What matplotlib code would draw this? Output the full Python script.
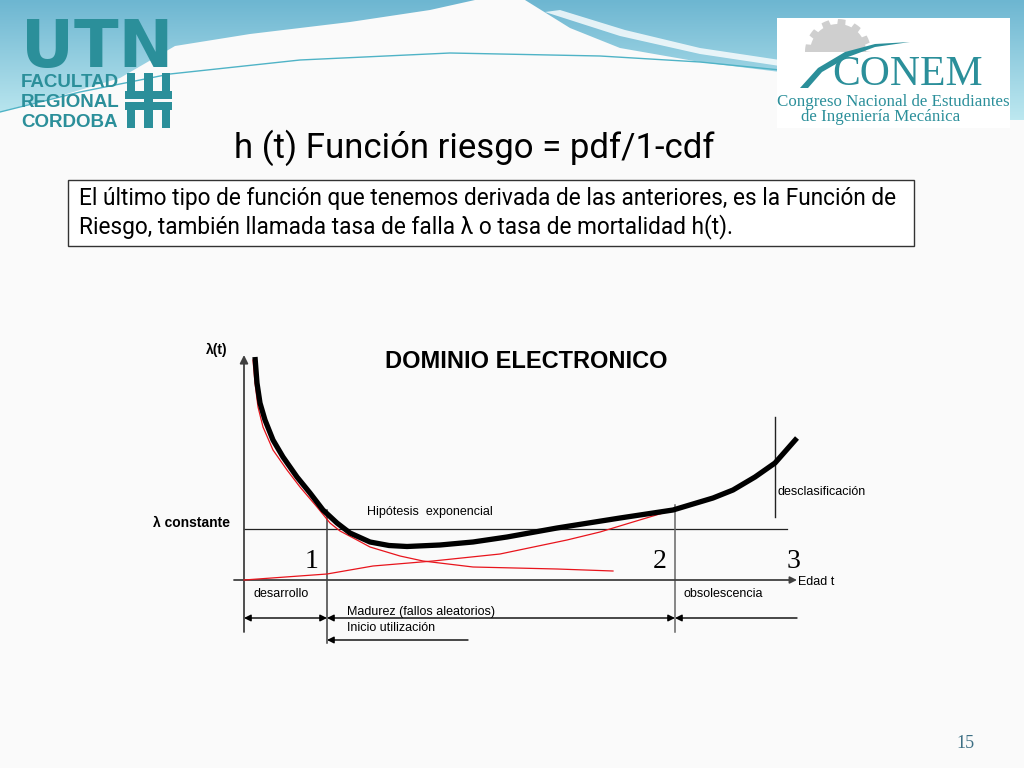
"""Slide: h(t) hazard function diagram (DOMINIO ELECTRONICO)."""

import matplotlib

matplotlib.use("Agg")

import matplotlib.pyplot as plt
import numpy as np
from matplotlib.patches import Polygon, Rectangle
from matplotlib.colors import to_rgb

# ---- diagram data (t = age, lam = failure rate, arbitrary units) ----
black_t = [1.1, 1.3, 1.6, 2.1, 2.9, 3.9, 5.3, 6.6, 7.9, 9.3, 10.6, 12.6, 14.5,
           16.3, 19.6, 22.9, 26.3, 31.3, 37.6, 42.9, 46.9, 48.9, 51.1, 53.1, 55.3]
black_lam = [22.3, 19.7, 17.7, 16.0, 14.0, 12.3, 10.3, 8.7, 7.0, 5.7, 4.7, 3.8, 3.45,
             3.35, 3.5, 3.8, 4.3, 5.2, 6.2, 7.0, 8.2, 9.0, 10.3, 11.7, 14.2]

red_dec_t = [0.9, 1.1, 1.4, 1.9, 2.9, 4.3, 5.6, 7.3, 8.6, 9.6, 11.3, 12.6, 15.6,
             17.9, 22.9, 31.3, 36.9]
red_dec_lam = [22.0, 19.7, 17.3, 15.3, 13.0, 11.0, 9.3, 7.3, 5.7, 4.9, 4.0, 3.3, 2.4,
               1.9, 1.3, 1.1, 0.9]

red_inc_t = [0.0, 8.3, 12.9, 18.9, 25.6, 32.3, 35.6, 38.9, 42.9, 46.9]
red_inc_lam = [0.0, 0.6, 1.4, 1.9, 2.6, 4.0, 4.8, 5.8, 7.0, 8.3]

lam_const = 5.1
t_marks = [8.3, 43.1, 53.1]          # phase boundaries 1 / 2 / 3
phase_labels = ["1", "2", "3"]
phase_label_t = [6.8, 41.6, 54.9]

TEAL = "#2b8f9a"

fig = plt.figure(figsize=(10.24, 7.68), dpi=100)
fig.patch.set_facecolor("#fafafa")

# slide axes in pixel coordinates
sl = fig.add_axes([0, 0, 1, 1])
sl.set_xlim(0, 1024)
sl.set_ylim(768, 0)
sl.axis("off")

# ---- top swoosh background ----
grad = np.linspace(0, 1, 120)[:, None]
c_top = np.array(to_rgb("#6db6d1"))
c_bot = np.array(to_rgb("#bde8f0"))
img = c_top + (c_bot - c_top) * grad[..., None]
img = np.repeat(img, 2, axis=1)

left_blue = Polygon([(0, 0), (475, 0), (430, 10), (350, 22), (250, 34), (175, 46),
                     (120, 78), (60, 96), (0, 112)], closed=True, transform=sl.transData)
right_blue = Polygon([(525, 0), (1024, 0), (1024, 145), (1010, 135), (900, 90),
                      (780, 72), (700, 62), (620, 48), (570, 28)], closed=True,
                     transform=sl.transData)
for poly in (left_blue, right_blue):
    im = sl.imshow(img, extent=(0, 1024, 120, 0), aspect="auto", zorder=0)
    im.set_clip_path(poly)
sl.set_xlim(0, 1024)
sl.set_ylim(768, 0)

sl.add_patch(Polygon([(545, 12), (620, 36), (700, 54), (780, 66), (780, 60),
                      (700, 48), (625, 30), (560, 10)], closed=True,
                     facecolor="white", edgecolor="none", alpha=0.8, zorder=1))
sl.plot([0, 80, 170, 300, 450, 600, 700, 780], [112, 92, 74, 60, 53, 56, 62, 70],
        color="#4fb3c6", lw=1.0, zorder=1)

# ---- UTN logo ----
sl.text(21, 67, "UTN", fontsize=47, fontweight="bold", color=TEAL,
        family="DejaVu Sans", va="baseline", ha="left", zorder=3)
for i, word in enumerate(["FACULTAD", "REGIONAL", "CORDOBA"]):
    sl.text(21, 87 + 20 * i, word, fontsize=13.5, fontweight="bold", color=TEAL,
            family="Liberation Sans", va="baseline", ha="left", zorder=3)
for (x0, y0, w, h) in [(127, 73, 8, 22), (162, 73, 8, 22), (144, 73, 9, 55),
                       (125, 91, 47, 8), (125, 102, 47, 8), (127, 106, 8, 22),
                       (162, 106, 8, 22)]:
    sl.add_patch(Rectangle((x0, y0), w, h, facecolor=TEAL, edgecolor="none", zorder=3))

# ---- CONEM logo ----
sl.add_patch(Rectangle((777, 18), 233, 110, facecolor="white", edgecolor="none", zorder=2))
ang = np.linspace(0, 2 * np.pi, 241)
r_gear = np.where((np.floor(ang / (2 * np.pi / 24)) % 2) == 0, 33, 28)
sl.add_patch(Polygon(np.c_[838 + r_gear * np.cos(ang), 52 + r_gear * np.sin(ang)],
                     closed=True, facecolor="#cfcfcf", edgecolor="none", zorder=3))
sl.add_patch(Rectangle((795, 52), 90, 50, facecolor="white", edgecolor="none", zorder=3))
sl.add_patch(Polygon([(800, 88), (818, 68), (845, 52), (875, 44), (910, 42),
                      (875, 47), (848, 57), (822, 72), (808, 88)], closed=True,
                     facecolor=TEAL, edgecolor="none", zorder=4))
sl.text(908, 85, "CONEM", fontsize=30, color=TEAL, family="Liberation Serif",
        ha="center", va="baseline", zorder=4)
sl.text(893, 106, "Congreso Nacional de Estudiantes", fontsize=12.2, color=TEAL,
        family="Liberation Serif", ha="center", va="baseline", zorder=4)
sl.text(881, 121, "de Ingeniería Mecánica", fontsize=12.2, color=TEAL,
        family="Liberation Serif", ha="center", va="baseline", zorder=4)

# ---- title and text box ----
body = ["Roboto", "DejaVu Sans"]
sl.text(474, 148, "h (t) Función riesgo = pdf/1-cdf", fontsize=25, family=body,
        ha="center", va="center", color="black", zorder=3)
sl.add_patch(Rectangle((68, 180), 846, 66, facecolor="white", edgecolor="#333333",
                       lw=1.0, zorder=2))
sl.text(79, 199, "El último tipo de función que tenemos derivada de las anteriores, "
        "es la Función de", fontsize=16.3, family=body, ha="left", va="center", zorder=3)
sl.text(79, 227, "Riesgo, también llamada tasa de falla λ o tasa de mortalidad h(t).",
        fontsize=16.3, family=body, ha="left", va="center", zorder=3)

sl.text(965, 743, "15", fontsize=13, color="#3d6f84", family="Liberation Serif",
        ha="center", va="center")

# ---- diagram axes: t 0..55.3 -> px 244..797, lam 0..22.5 -> px 580..355 ----
ax = fig.add_axes([244 / 1024, (768 - 580) / 768, 553 / 1024, 225 / 768])
ax.set_xlim(0, 55.3)
ax.set_ylim(0, 22.5)
ax.axis("off")

AX_C = "#404040"
sans = "Liberation Sans"

# axes with arrows
ax.annotate("", xy=(0, 22.5), xytext=(0, -5.2),
            arrowprops=dict(arrowstyle="-|>", color=AX_C, lw=1.3, mutation_scale=12,
                            shrinkA=0, shrinkB=0), annotation_clip=False)
ax.annotate("", xy=(55.3, 0), xytext=(-1.0, 0),
            arrowprops=dict(arrowstyle="-|>", color=AX_C, lw=1.3, mutation_scale=10,
                            shrinkA=0, shrinkB=0), annotation_clip=False)

# lambda constant level and phase boundaries
ax.plot([0, 54.3], [lam_const, lam_const], color="#222222", lw=0.9, clip_on=False)
ax.plot([t_marks[0]] * 2, [7.0, -6.3], color=AX_C, lw=1.1, clip_on=False)
ax.plot([t_marks[1]] * 2, [7.5, -5.2], color="#666666", lw=1.1, clip_on=False)
ax.plot([t_marks[2]] * 2, [16.3, 6.3], color="#222222", lw=1.0, clip_on=False)

# curves
ax.plot(red_dec_t, red_dec_lam, color="#e8141c", lw=0.9, clip_on=False, zorder=3)
ax.plot(red_inc_t, red_inc_lam, color="#e8141c", lw=0.9, clip_on=False, zorder=3)
ax.plot(black_t, black_lam, color="black", lw=3.8, solid_capstyle="butt",
        solid_joinstyle="round", clip_on=False, zorder=4)

# interval arrows
arr = dict(color="black", lw=1.0, mutation_scale=10, shrinkA=0, shrinkB=0)
ax.annotate("", xy=(0, -3.8), xytext=(t_marks[0], -3.8),
            arrowprops=dict(arrowstyle="<|-|>", **arr), annotation_clip=False)
ax.annotate("", xy=(t_marks[0], -3.8), xytext=(t_marks[1], -3.8),
            arrowprops=dict(arrowstyle="<|-|>", **arr), annotation_clip=False)
ax.annotate("", xy=(t_marks[1], -3.8), xytext=(55.3, -3.8),
            arrowprops=dict(arrowstyle="-|>", **arr), annotation_clip=False)
ax.annotate("", xy=(t_marks[0], -6.0), xytext=(22.4, -6.0),
            arrowprops=dict(arrowstyle="-|>", **arr), annotation_clip=False)

# labels
ax.text(-1.6, 23.0, "λ(t)", fontsize=10, fontweight="bold", family=sans,
        ha="right", va="center")
ax.text(14.1, 21.9, "DOMINIO ELECTRONICO", fontsize=17, fontweight="bold",
        family=sans, ha="left", va="center")
ax.text(-1.4, 5.7, "λ constante", fontsize=10, fontweight="bold", family=sans,
        ha="right", va="center")
ax.text(12.3, 6.8, "Hipótesis  exponencial", fontsize=9, family=sans,
        ha="left", va="center")
ax.text(53.3, 8.8, "desclasificación", fontsize=9, family=sans, ha="left", va="center")
for lbl, tx in zip(phase_labels, phase_label_t):
    ax.text(tx, 1.9, lbl, fontsize=20, family="Liberation Serif", ha="center",
            va="center")
ax.text(55.4, -0.2, "Edad t", fontsize=9, family=sans, ha="left", va="center")
ax.text(1.0, -1.4, "desarrollo", fontsize=9, family=sans, ha="left", va="center")
ax.text(44.0, -1.4, "obsolescencia", fontsize=9, family=sans, ha="left", va="center")
ax.text(10.3, -3.2, "Madurez (fallos aleatorios)", fontsize=9, family=sans,
        ha="left", va="center")
ax.text(10.3, -4.8, "Inicio utilización", fontsize=9, family=sans,
        ha="left", va="center")

fig.savefig("out.png", dpi=100, facecolor=fig.get_facecolor())
plt.close(fig)
